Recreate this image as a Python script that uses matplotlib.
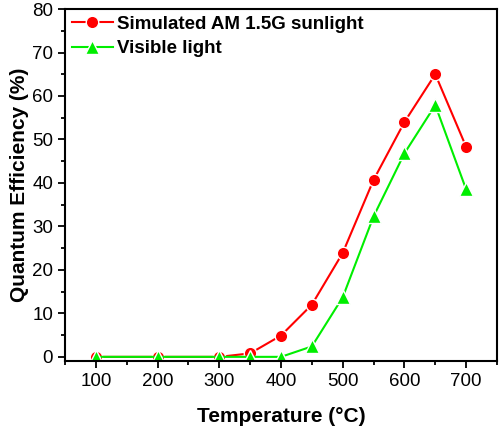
import matplotlib
matplotlib.use("Agg")
import matplotlib.pyplot as plt
from matplotlib.ticker import MultipleLocator

# data
temperature = [100, 200, 300, 350, 400, 450, 500, 550, 600, 650, 700]
qe_sunlight = [0, 0, 0, 0.8, 4.9, 12.0, 23.9, 40.7, 54.0, 65.0, 48.3]
qe_visible = [0, 0, 0, 0, 0, 2.4, 13.7, 32.3, 46.8, 57.9, 38.5]

plt.rcParams['font.family'] = ['Liberation Sans', 'DejaVu Sans']

fig = plt.figure(figsize=(5, 4.3), dpi=100)
ax = fig.add_axes([0.13, 0.16, 0.864, 0.819])

ax.plot(temperature, qe_sunlight, color='#ff0000', lw=1.5, marker='o', ms=9,
        mfc='#ff0000', mec='white', mew=1.0, label='Simulated AM 1.5G sunlight')
ax.plot(temperature, qe_visible, color='#00ee00', lw=1.5, marker='^', ms=10,
        mfc='#00ee00', mec='white', mew=1.0, label='Visible light')

ax.set_xlim(50, 750)
ax.set_ylim(-1, 80)
ax.xaxis.set_major_locator(MultipleLocator(100))
ax.xaxis.set_minor_locator(MultipleLocator(50))
ax.yaxis.set_major_locator(MultipleLocator(10))
ax.yaxis.set_minor_locator(MultipleLocator(5))
ax.tick_params(which='major', direction='out', length=5, width=1.3, labelsize=13.5)
ax.tick_params(which='minor', direction='out', length=3, width=1.3)
ax.tick_params(top=False, right=False)
for s in ax.spines.values():
    s.set_linewidth(1.5)

ax.set_xlabel('Temperature (°C)', fontsize=15, fontweight='bold', labelpad=12)
ax.set_ylabel('Quantum Efficiency (%)', fontsize=15, fontweight='bold', labelpad=2)

leg = ax.legend(loc='upper left', frameon=False, prop={'size': 13.5, 'weight': 'bold'},
                handlelength=2.2, handletextpad=0.2, labelspacing=0.4,
                borderaxespad=0.15, borderpad=0.2)

fig.savefig('out.png', dpi=100)
